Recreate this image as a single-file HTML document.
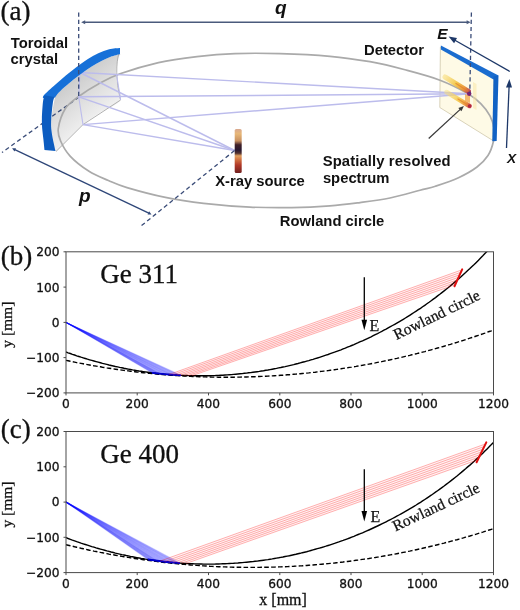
<!DOCTYPE html>
<html><head><meta charset="utf-8"><style>html,body{margin:0;padding:0;background:#fff;}svg{display:block}</style></head>
<body><svg width="520" height="610" viewBox="0 0 520 610">
<rect width="520" height="610" fill="#fff"/>
<g id="pa">
<defs><linearGradient id="gface" gradientUnits="userSpaceOnUse" x1="60" y1="88" x2="95" y2="132"><stop offset="0" stop-color="#cbcbcb"/><stop offset="0.5" stop-color="#e2e2e2"/><stop offset="1" stop-color="#f7f7f7"/></linearGradient><filter id="bl1" x="-50%" y="-50%" width="200%" height="200%"><feGaussianBlur stdDeviation="1.2"/></filter><filter id="bl2" x="-50%" y="-50%" width="200%" height="200%"><feGaussianBlur stdDeviation="0.7"/></filter></defs>
<path d="M440.4,47 L494,78 L493,140.6 L439.8,107.5Z" fill="#fefae6" stroke="#c9c0a0" stroke-width="0.7"/>
<path d="M120,54 C118.7,54 113.8,55.6 110.7,56.8 C107.6,58 104.5,59.4 101.4,61 C98.3,62.6 95.2,64.4 92.1,66.3 C89,68.2 86,70.2 82.9,72.4 C79.8,74.6 76.7,76.9 73.6,79.4 C70.5,81.9 67,84.8 64.3,87.2 C61.6,89.6 59,92.3 57.5,94 C56,95.7 56,93.5 55,97.5 C54,101.5 52.1,112.8 51.5,118 C50.9,123.2 51.2,125.5 51.5,129 C51.8,132.5 52.3,135.5 53,139.2 C53.7,142.9 52.8,151.6 55.6,151.2 C58.4,150.8 65.4,141.4 70,137 C74.6,132.6 77.8,128.8 83,124.6 C88.2,120.4 94.7,116.1 101,112 C107.3,107.9 118,105.3 120.6,100 C123.1,94.7 117,85.7 116.3,80 C115.6,74.3 116.2,69.8 116.6,66 C117,62.2 117.9,59 118.5,57 C119.1,55 121.3,54 120,54" fill="url(#gface)"/>
<path d="M119,53 C116,63 115.5,80 120.6,100 L83,124.6 L56,151.5" fill="none" stroke="#a8a8a8" stroke-width="0.9"/>
<line x1="79" y1="97" x2="2" y2="152.5" stroke="#3a4c78" stroke-width="1.3" stroke-dasharray="4.2,3"/>
<path d="M60.6,141 C58.6,136.4 57.5,133.9 58.3,128.5 C59.1,123.1 62,113.9 65.4,108.5 C68.9,103.1 73.6,100.2 79,96.2 C84.4,92.2 91.2,87.9 98,84.2 C104.8,80.5 109.9,77.4 120,73.8 C130.1,70.2 145.7,65.5 158.5,62.6 C171.3,59.7 184.2,58.1 197,56.6 C209.8,55.1 221.2,54.1 235,53.6 C248.8,53.1 264.2,53.2 280,53.6 C295.8,54 315,54.9 330,56.3 C345,57.6 357.5,59.5 370,61.7 C382.5,64 393.3,66.7 405,69.8 C416.7,72.9 429.5,76.2 440,80.2 C450.5,84.2 461.2,89.8 468,93.7 C474.8,97.6 477.3,100.1 481,103.8 C484.7,107.5 487.8,111.7 490,115.8 C492.2,119.9 493.4,124.3 494,128.5 C494.6,132.7 494.5,136.5 493.5,141 C492.5,145.5 490.8,151.2 488,155.5 C485.2,159.8 481.9,163.3 477,167 C472.1,170.7 465.4,174.5 458.5,177.7 C451.6,180.9 441.8,184.1 435.4,186.2 C429,188.3 427.6,188.2 420,190.2 C412.4,192.2 400,195.9 390,198 C380,200.1 370,201.3 360,202.6 C350,203.9 341.3,205.1 330,205.9 C318.7,206.7 305.3,207.4 292,207.6 C278.7,207.8 264.7,207.8 250,207.1 C235.3,206.4 217.7,204.9 203.6,203.3 C189.5,201.7 178.2,200 165.4,197.4 C152.6,194.8 136.5,190.4 127,187.6 C117.5,184.8 114.7,183.2 108.4,180.5 C102.1,177.8 95.4,175.4 89,171.3 C82.6,167.2 74.8,161.2 70.1,156.1 C65.4,151 62.6,145.6 60.6,141" fill="none" stroke="#aaaaaa" stroke-width="1.7"/>
<g stroke="#bcbcec" stroke-width="1.4" fill="none">
<line x1="234.7" y1="150.5" x2="80" y2="72.5"/>
<line x1="80" y1="72.5" x2="469.2" y2="93.8"/>
<line x1="234.7" y1="150.5" x2="78.7" y2="96.8"/>
<line x1="78.7" y1="96.8" x2="469.2" y2="93.8"/>
<line x1="234.7" y1="150.5" x2="83" y2="124.6"/>
<line x1="83" y1="124.6" x2="469.2" y2="93.8"/>
<path d="M80,72.5 L78.7,96.8 L83,124.6 M116.5,74 L120.6,100" stroke-width="1.1"/>
</g>
<path d="M43,98 C43.2,97.5 42.1,97.2 44.1,95 C46.1,92.8 51.3,88.3 54.9,85.1 C58.5,81.9 62.2,78.6 65.8,75.6 C69.4,72.6 73,69.6 76.6,66.9 C80.2,64.2 83.9,61.5 87.5,59.2 C91.1,56.9 94.7,54.9 98.3,53.2 C101.9,51.5 105.6,50.1 109.2,49.2 C112.8,48.3 118.2,48.2 120,48 L120,54 C118.5,54.5 113.8,55.6 110.7,56.8 C107.6,58 104.5,59.4 101.4,61 C98.3,62.6 95.2,64.4 92.1,66.3 C89,68.2 86,70.2 82.9,72.4 C79.8,74.6 76.7,76.9 73.6,79.4 C70.5,81.9 67,84.8 64.3,87.2 C61.6,89.6 59,92.3 57.5,94 C56,95.7 55.4,96.9 55,97.5Z" fill="#1670d8"/>
<path d="M44.5,95.2 C44.2,96.4 43.3,98.7 42.9,102.5 C42.5,106.3 42,113.8 41.9,118.2 C41.8,122.6 42,125.2 42.2,128.7 C42.5,132.2 43,135.6 43.4,139.2 C43.8,142.8 44.3,148.2 44.5,150 L55.5,151 C55.1,149 53.6,142.9 52.9,139.2 C52.2,135.5 51.6,132.2 51.3,128.7 C51,125.2 51,122.6 51.3,118.2 C51.6,113.8 52.4,106 52.9,102.5 C53.4,99 54.2,97.9 54.5,97Z" fill="#0c5cc0"/>
<defs><linearGradient id="gs1" gradientUnits="userSpaceOnUse" x1="443" y1="75" x2="469" y2="93"><stop offset="0" stop-color="#f8e080" stop-opacity="0.6"/><stop offset="0.5" stop-color="#f2c440"/><stop offset="0.8" stop-color="#e88a2c"/><stop offset="1" stop-color="#b03050"/></linearGradient><linearGradient id="gs2" gradientUnits="userSpaceOnUse" x1="445" y1="91" x2="470" y2="108"><stop offset="0" stop-color="#f8e080" stop-opacity="0.5"/><stop offset="0.55" stop-color="#f4c848"/><stop offset="0.8" stop-color="#eb9034"/><stop offset="1" stop-color="#c83040"/></linearGradient></defs>
<g filter="url(#bl2)" stroke-linecap="round"><line x1="445" y1="77" x2="468.5" y2="91.5" stroke="url(#gs1)" stroke-width="5" opacity="0.9"/><line x1="446.5" y1="92" x2="469.5" y2="106" stroke="url(#gs2)" stroke-width="4.5" opacity="0.9"/><line x1="456" y1="83.5" x2="468.5" y2="91.5" stroke="#e2802c" stroke-width="1.4" opacity="0.7"/><line x1="458" y1="99" x2="469.5" y2="106" stroke="#e2802c" stroke-width="1.3" opacity="0.7"/><path d="M465,94 L470,96 L470,103 L465,101Z" fill="#f0a040" opacity="0.7"/><path d="M473,82 L476.5,84 L476.5,110 L473,108Z" fill="#f9e6a0" opacity="0.5"/></g>
<g filter="url(#bl2)"><circle cx="469.2" cy="93.8" r="2.2" fill="#7a2070"/><circle cx="469.5" cy="106" r="1.8" fill="#b02840"/></g>
<path d="M440.9,45.6 L498.5,75.5 L493.5,79.5 L440.9,49.6Z" fill="#1a6ccf"/>
<path d="M493.5,76.5 L498.5,75.5 L496.7,141 L492.3,141.2Z" fill="#1262c4"/>
<defs><linearGradient id="gsrc" x1="0" y1="0" x2="0" y2="1"><stop offset="0" stop-color="#d8a890"/><stop offset="0.11" stop-color="#e8b878"/><stop offset="0.27" stop-color="#c89060"/><stop offset="0.36" stop-color="#402028"/><stop offset="0.48" stop-color="#281830"/><stop offset="0.55" stop-color="#503030"/><stop offset="0.61" stop-color="#e0a060"/><stop offset="0.70" stop-color="#d07040"/><stop offset="0.82" stop-color="#b03828"/><stop offset="1" stop-color="#702020"/></linearGradient></defs>
<rect x="234.7" y="128.9" width="7" height="44.2" rx="1.5" fill="url(#gsrc)"/>
<g stroke="#3a4c78" stroke-width="1.3" stroke-dasharray="4.2,3" fill="none"><line x1="78.7" y1="12.5" x2="78.7" y2="96.8"/><line x1="471.4" y1="12.5" x2="469.8" y2="93"/><line x1="234.5" y1="150.6" x2="141" y2="226"/></g>
<line x1="84.6" y1="22.3" x2="467.2" y2="22.3" stroke="#4a5a7c" stroke-width="1.5"/>
<path d="M470.6,22.3 L466.6,24.3 L466.6,20.3Z" fill="#4a5a7c"/>
<path d="M81.2,22.3 L85.2,24.3 L85.2,20.3Z" fill="#4a5a7c"/>
<line x1="148.8" y1="213.1" x2="14.8" y2="149.6" stroke="#2e4678" stroke-width="1.3"/>
<path d="M12.1,148.3 L16,148.2 L14.5,151.4Z" fill="#2e4678"/>
<path d="M151.5,214.4 L149.1,211.3 L147.6,214.5Z" fill="#2e4678"/>
<line x1="509.8" y1="71.5" x2="454.5" y2="40" stroke="#1e3868" stroke-width="1.3"/>
<path d="M448.6,36.6 L457,38 L454.1,43.2Z" fill="#1e3868"/>
<line x1="506.5" y1="148" x2="509.1" y2="86.2" stroke="#1e3868" stroke-width="1.3"/>
<path d="M509.4,79 L512,87.6 L506,87.4Z" fill="#1e3868"/>
<line x1="428.7" y1="138.5" x2="460.5" y2="109.1" stroke="#383838" stroke-width="1.2"/>
<path d="M463.9,105.9 L461.4,111.3 L458.3,108Z" fill="#383838"/>
<g font-family="Liberation Sans, Arial, sans-serif" font-weight="bold" font-size="14.8" fill="#111"><text x="10.8" y="47.5">Toroidal</text><text x="10.5" y="63.6">crystal</text><text x="364" y="55.3">Detector</text><text x="322.7" y="165.5" letter-spacing="0.12">Spatially resolved</text><text x="322.9" y="183">spectrum</text><text x="215.2" y="185.7">X-ray source</text><text x="279.8" y="225.8">Rowland circle</text></g>
<g font-family="Liberation Sans, Arial, sans-serif" font-weight="bold" font-style="italic" fill="#111"><text x="79" y="201.5" font-size="19">p</text><text x="275" y="13.5" font-size="19">q</text><text x="437.2" y="39.3" font-size="15.5">E</text><text x="507" y="163.4" font-size="13.7">X</text></g>
<text x="0.6" y="19.8" font-family="Liberation Serif, serif" font-size="27" fill="#111" stroke="#111" stroke-width="0.3">(a)</text>
</g>
<g>
<defs><clipPath id="clipb"><rect x="66.0" y="251.8" width="427.5" height="141.09999999999997"/></clipPath></defs>
<g clip-path="url(#clipb)">
<path d="M66,352 L68.1,352.8 L70.3,353.5 L72.4,354.3 L74.6,355 L76.7,355.8 L78.9,356.5 L81,357.2 L83.2,357.8 L85.3,358.5 L87.5,359.2 L89.6,359.8 L91.8,360.4 L93.9,361 L96.1,361.6 L98.2,362.2 L100.4,362.8 L102.5,363.4 L104.7,363.9 L106.8,364.4 L109,365 L111.1,365.5 L113.3,366 L115.4,366.5 L117.6,366.9 L119.7,367.4 L121.9,367.8 L124,368.3 L126.2,368.7 L128.3,369.1 L130.4,369.5 L132.6,369.9 L134.7,370.2 L136.9,370.6 L139,371 L141.2,371.3 L143.3,371.6 L145.5,371.9 L147.6,372.2 L149.8,372.5 L151.9,372.8 L154.1,373 L156.2,373.3 L158.4,373.5 L160.5,373.8 L162.7,374 L164.8,374.2 L167,374.4 L169.1,374.5 L171.3,374.7 L173.4,374.9 L175.6,375 L177.7,375.1 L179.9,375.3 L182,375.4 L184.2,375.5 L186.3,375.5 L188.4,375.6 L190.6,375.7 L192.7,375.7 L194.9,375.8 L197,375.8 L199.2,375.8 L201.3,375.8 L203.5,375.8 L205.6,375.8 L207.8,375.7 L209.9,375.7 L212.1,375.6 L214.2,375.6 L216.4,375.5 L218.5,375.4 L220.7,375.3 L222.8,375.2 L225,375 L227.1,374.9 L229.3,374.7 L231.4,374.6 L233.6,374.4 L235.7,374.2 L237.9,374 L240,373.8 L242.2,373.6 L244.3,373.3 L246.5,373.1 L248.6,372.8 L250.7,372.6 L252.9,372.3 L255,372 L257.2,371.7 L259.3,371.4 L261.5,371 L263.6,370.7 L265.8,370.3 L267.9,370 L270.1,369.6 L272.2,369.2 L274.4,368.8 L276.5,368.4 L278.7,367.9 L280.8,367.5 L283,367 L285.1,366.6 L287.3,366.1 L289.4,365.6 L291.6,365.1 L293.7,364.6 L295.9,364 L298,363.5 L300.2,362.9 L302.3,362.3 L304.5,361.8 L306.6,361.2 L308.8,360.6 L310.9,359.9 L313,359.3 L315.2,358.6 L317.3,358 L319.5,357.3 L321.6,356.6 L323.8,355.9 L325.9,355.2 L328.1,354.5 L330.2,353.7 L332.4,352.9 L334.5,352.2 L336.7,351.4 L338.8,350.6 L341,349.8 L343.1,348.9 L345.3,348.1 L347.4,347.2 L349.6,346.4 L351.7,345.5 L353.9,344.6 L356,343.6 L358.2,342.7 L360.3,341.7 L362.5,340.8 L364.6,339.8 L366.8,338.8 L368.9,337.8 L371.1,336.8 L373.2,335.7 L375.3,334.6 L377.5,333.6 L379.6,332.5 L381.8,331.4 L383.9,330.2 L386.1,329.1 L388.2,327.9 L390.4,326.7 L392.5,325.5 L394.7,324.3 L396.8,323.1 L399,321.8 L401.1,320.6 L403.3,319.3 L405.4,318 L407.6,316.6 L409.7,315.3 L411.9,313.9 L414,312.5 L416.2,311.1 L418.3,309.7 L420.5,308.3 L422.6,306.8 L424.8,305.3 L426.9,303.8 L429.1,302.3 L431.2,300.7 L433.3,299.1 L435.5,297.6 L437.6,295.9 L439.8,294.3 L441.9,292.6 L444.1,290.9 L446.2,289.2 L448.4,287.5 L450.5,285.7 L452.7,283.9 L454.8,282.1 L457,280.2 L459.1,278.4 L461.3,276.5 L463.4,274.5 L465.6,272.6 L467.7,270.6 L469.9,268.6 L472,266.5 L474.2,264.5 L476.3,262.4 L478.5,260.2 L480.6,258 L482.8,255.8 L484.9,253.6 L487.1,251.3 L489.2,249 L491.4,246.6 L493.5,244.2" fill="none" stroke="#000" stroke-width="1.4"/>
<path d="M66,360.4 L68.1,360.8 L70.3,361.3 L72.4,361.7 L74.6,362.1 L76.7,362.6 L78.9,363 L81,363.4 L83.2,363.8 L85.3,364.2 L87.5,364.6 L89.6,365 L91.8,365.4 L93.9,365.8 L96.1,366.1 L98.2,366.5 L100.4,366.8 L102.5,367.2 L104.7,367.5 L106.8,367.9 L109,368.2 L111.1,368.5 L113.3,368.9 L115.4,369.2 L117.6,369.5 L119.7,369.8 L121.9,370.1 L124,370.4 L126.2,370.7 L128.3,370.9 L130.4,371.2 L132.6,371.5 L134.7,371.7 L136.9,372 L139,372.2 L141.2,372.5 L143.3,372.7 L145.5,372.9 L147.6,373.2 L149.8,373.4 L151.9,373.6 L154.1,373.8 L156.2,374 L158.4,374.2 L160.5,374.4 L162.7,374.5 L164.8,374.7 L167,374.9 L169.1,375.1 L171.3,375.2 L173.4,375.4 L175.6,375.5 L177.7,375.6 L179.9,375.8 L182,375.9 L184.2,376 L186.3,376.1 L188.4,376.3 L190.6,376.4 L192.7,376.5 L194.9,376.5 L197,376.6 L199.2,376.7 L201.3,376.8 L203.5,376.9 L205.6,376.9 L207.8,377 L209.9,377 L212.1,377.1 L214.2,377.1 L216.4,377.1 L218.5,377.2 L220.7,377.2 L222.8,377.2 L225,377.2 L227.1,377.2 L229.3,377.2 L231.4,377.2 L233.6,377.2 L235.7,377.1 L237.9,377.1 L240,377.1 L242.2,377 L244.3,377 L246.5,377 L248.6,376.9 L250.7,376.8 L252.9,376.8 L255,376.7 L257.2,376.6 L259.3,376.5 L261.5,376.4 L263.6,376.3 L265.8,376.2 L267.9,376.1 L270.1,376 L272.2,375.9 L274.4,375.7 L276.5,375.6 L278.7,375.5 L280.8,375.3 L283,375.2 L285.1,375 L287.3,374.8 L289.4,374.7 L291.6,374.5 L293.7,374.3 L295.9,374.1 L298,373.9 L300.2,373.7 L302.3,373.5 L304.5,373.3 L306.6,373.1 L308.8,372.9 L310.9,372.6 L313,372.4 L315.2,372.2 L317.3,371.9 L319.5,371.6 L321.6,371.4 L323.8,371.1 L325.9,370.8 L328.1,370.6 L330.2,370.3 L332.4,370 L334.5,369.7 L336.7,369.4 L338.8,369.1 L341,368.8 L343.1,368.4 L345.3,368.1 L347.4,367.8 L349.6,367.4 L351.7,367.1 L353.9,366.7 L356,366.4 L358.2,366 L360.3,365.6 L362.5,365.3 L364.6,364.9 L366.8,364.5 L368.9,364.1 L371.1,363.7 L373.2,363.3 L375.3,362.9 L377.5,362.4 L379.6,362 L381.8,361.6 L383.9,361.1 L386.1,360.7 L388.2,360.2 L390.4,359.8 L392.5,359.3 L394.7,358.8 L396.8,358.4 L399,357.9 L401.1,357.4 L403.3,356.9 L405.4,356.4 L407.6,355.9 L409.7,355.4 L411.9,354.8 L414,354.3 L416.2,353.8 L418.3,353.2 L420.5,352.7 L422.6,352.1 L424.8,351.6 L426.9,351 L429.1,350.4 L431.2,349.8 L433.3,349.2 L435.5,348.6 L437.6,348 L439.8,347.4 L441.9,346.8 L444.1,346.2 L446.2,345.6 L448.4,344.9 L450.5,344.3 L452.7,343.6 L454.8,343 L457,342.3 L459.1,341.6 L461.3,341 L463.4,340.3 L465.6,339.6 L467.7,338.9 L469.9,338.2 L472,337.5 L474.2,336.8 L476.3,336 L478.5,335.3 L480.6,334.6 L482.8,333.8 L484.9,333.1 L487.1,332.3 L489.2,331.5 L491.4,330.8 L493.5,330" fill="none" stroke="#000" stroke-width="1.4" stroke-dasharray="4.6,2.3"/>
<path d="M66,322.4 L152,372.8 L156.1,373.3 L160.3,373.7 L164.4,374.1 L168.6,374.5 L172.7,374.8 L176.9,375.1 L181,375.3Z" fill="#2020ff" fill-opacity="0.16"/>
<path d="M66,322.4 L152,372.8 L154.2,373.1 L156.3,373.3 L158.5,373.5 L160.7,373.8Z" fill="#0000e0" fill-opacity="0.2"/>
<line x1="66" y1="322.4" x2="152" y2="372.8" stroke="#0000ff" stroke-opacity="0.2" stroke-width="1.1"/>
<line x1="66" y1="322.4" x2="153.9" y2="373" stroke="#0000ff" stroke-opacity="0.2" stroke-width="1.1"/>
<line x1="66" y1="322.4" x2="155.9" y2="373.3" stroke="#0000ff" stroke-opacity="0.2" stroke-width="1.1"/>
<line x1="66" y1="322.4" x2="157.8" y2="373.5" stroke="#0000ff" stroke-opacity="0.2" stroke-width="1.1"/>
<line x1="66" y1="322.4" x2="159.7" y2="373.7" stroke="#0000ff" stroke-opacity="0.2" stroke-width="1.1"/>
<line x1="66" y1="322.4" x2="161.7" y2="373.9" stroke="#0000ff" stroke-opacity="0.2" stroke-width="1.1"/>
<line x1="66" y1="322.4" x2="163.6" y2="374.1" stroke="#0000ff" stroke-opacity="0.2" stroke-width="1.1"/>
<line x1="66" y1="322.4" x2="165.5" y2="374.2" stroke="#0000ff" stroke-opacity="0.2" stroke-width="1.1"/>
<line x1="66" y1="322.4" x2="167.5" y2="374.4" stroke="#0000ff" stroke-opacity="0.2" stroke-width="1.1"/>
<line x1="66" y1="322.4" x2="169.4" y2="374.6" stroke="#0000ff" stroke-opacity="0.2" stroke-width="1.1"/>
<line x1="66" y1="322.4" x2="171.3" y2="374.7" stroke="#0000ff" stroke-opacity="0.2" stroke-width="1.1"/>
<line x1="66" y1="322.4" x2="173.3" y2="374.9" stroke="#0000ff" stroke-opacity="0.2" stroke-width="1.1"/>
<line x1="66" y1="322.4" x2="175.2" y2="375" stroke="#0000ff" stroke-opacity="0.2" stroke-width="1.1"/>
<line x1="66" y1="322.4" x2="177.1" y2="375.1" stroke="#0000ff" stroke-opacity="0.2" stroke-width="1.1"/>
<line x1="66" y1="322.4" x2="179.1" y2="375.2" stroke="#0000ff" stroke-opacity="0.2" stroke-width="1.1"/>
<line x1="66" y1="322.4" x2="181" y2="375.3" stroke="#0000ff" stroke-opacity="0.2" stroke-width="1.1"/>
<path d="M152,372.8 Q166.5,374.7 181,375.3" fill="none" stroke="#0000d0" stroke-width="1.8"/>
<line x1="169" y1="374.5" x2="462" y2="269.8" stroke="#ff0000" stroke-opacity="0.36" stroke-width="0.85"/>
<line x1="172.8" y1="374.8" x2="460.9" y2="272.3" stroke="#ff0000" stroke-opacity="0.36" stroke-width="0.85"/>
<line x1="176.7" y1="375.1" x2="459.7" y2="274.8" stroke="#ff0000" stroke-opacity="0.36" stroke-width="0.85"/>
<line x1="180.5" y1="375.3" x2="458.6" y2="277.3" stroke="#ff0000" stroke-opacity="0.36" stroke-width="0.85"/>
<line x1="184.3" y1="375.5" x2="457.5" y2="279.8" stroke="#ff0000" stroke-opacity="0.36" stroke-width="0.85"/>
<line x1="188.2" y1="375.6" x2="456.3" y2="282.3" stroke="#ff0000" stroke-opacity="0.36" stroke-width="0.85"/>
<line x1="192" y1="375.7" x2="455.2" y2="284.8" stroke="#ff0000" stroke-opacity="0.36" stroke-width="0.85"/>
<path d="M169,374.5 L462,269.8 L455.2,284.8 L192,375.7Z" fill="#ff2020" fill-opacity="0.05"/>
<line x1="462.2" y1="269.4" x2="454.5" y2="286.25" stroke="#e01010" stroke-width="2" stroke-linecap="round"/>
</g>
<rect x="66.0" y="251.8" width="427.5" height="141.09999999999997" fill="none" stroke="#4a4a4a" stroke-width="1"/>
<line x1="364.3" y1="277.2" x2="364.3" y2="321.2" stroke="#000" stroke-width="1.3"/>
<path d="M361.5,319.8 L367.1,319.8 L364.3,330.2Z" fill="#000"/>
<text x="369.5" y="330.5" font-family="Liberation Serif, serif" font-size="16" fill="#111" stroke="#111" stroke-width="0.25">E</text>
<text transform="translate(396.5,340) rotate(-25.9)" font-family="Liberation Serif, serif" font-size="15.5" fill="#111" stroke="#111" stroke-width="0.25">Rowland circle</text>
<path d="M66,392.9 v2.5 M137.2,392.9 v2.5 M208.5,392.9 v2.5 M279.8,392.9 v2.5 M351,392.9 v2.5 M422.2,392.9 v2.5 M493.5,392.9 v2.5 M66.0,392.9 h-2.5 M66.0,357.6 h-2.5 M66.0,322.4 h-2.5 M66.0,287.1 h-2.5 M66.0,251.8 h-2.5" stroke="#4a4a4a" stroke-width="1"/>
<g font-family="DejaVu Sans, sans-serif" font-size="12.2" fill="#111" stroke="#111" stroke-width="0.3">
<text x="66" y="408.2" text-anchor="middle">0</text>
<text x="137.2" y="408.2" text-anchor="middle">200</text>
<text x="208.5" y="408.2" text-anchor="middle">400</text>
<text x="279.8" y="408.2" text-anchor="middle">600</text>
<text x="351" y="408.2" text-anchor="middle">800</text>
<text x="422.2" y="408.2" text-anchor="middle">1000</text>
<text x="493.5" y="408.2" text-anchor="middle">1200</text>
<text x="59.5" y="397.3" text-anchor="end">−200</text>
<text x="59.5" y="362" text-anchor="end">−100</text>
<text x="59.5" y="326.8" text-anchor="end">0</text>
<text x="59.5" y="291.5" text-anchor="end">100</text>
<text x="59.5" y="256.2" text-anchor="end">200</text>
</g>
</g>
<g>
<defs><clipPath id="clipc"><rect x="66.0" y="431.5" width="427.5" height="141.10000000000002"/></clipPath></defs>
<g clip-path="url(#clipc)">
<path d="M66,537.6 L68.1,538.5 L70.3,539.3 L72.4,540.1 L74.6,540.8 L76.7,541.6 L78.9,542.3 L81,543.1 L83.2,543.8 L85.3,544.5 L87.5,545.2 L89.6,545.9 L91.8,546.6 L93.9,547.2 L96.1,547.9 L98.2,548.5 L100.4,549.1 L102.5,549.7 L104.7,550.3 L106.8,550.9 L109,551.4 L111.1,552 L113.3,552.5 L115.4,553.1 L117.6,553.6 L119.7,554.1 L121.9,554.6 L124,555 L126.2,555.5 L128.3,555.9 L130.4,556.4 L132.6,556.8 L134.7,557.2 L136.9,557.6 L139,558 L141.2,558.4 L143.3,558.7 L145.5,559.1 L147.6,559.4 L149.8,559.8 L151.9,560.1 L154.1,560.4 L156.2,560.7 L158.4,560.9 L160.5,561.2 L162.7,561.5 L164.8,561.7 L167,561.9 L169.1,562.2 L171.3,562.4 L173.4,562.6 L175.6,562.7 L177.7,562.9 L179.9,563.1 L182,563.2 L184.2,563.4 L186.3,563.5 L188.4,563.6 L190.6,563.7 L192.7,563.8 L194.9,563.9 L197,563.9 L199.2,564 L201.3,564 L203.5,564.1 L205.6,564.1 L207.8,564.1 L209.9,564.1 L212.1,564.1 L214.2,564.1 L216.4,564 L218.5,564 L220.7,563.9 L222.8,563.8 L225,563.7 L227.1,563.6 L229.3,563.5 L231.4,563.4 L233.6,563.3 L235.7,563.1 L237.9,563 L240,562.8 L242.2,562.6 L244.3,562.4 L246.5,562.2 L248.6,562 L250.7,561.8 L252.9,561.6 L255,561.3 L257.2,561.1 L259.3,560.8 L261.5,560.5 L263.6,560.2 L265.8,559.9 L267.9,559.6 L270.1,559.2 L272.2,558.9 L274.4,558.5 L276.5,558.1 L278.7,557.8 L280.8,557.4 L283,557 L285.1,556.5 L287.3,556.1 L289.4,555.7 L291.6,555.2 L293.7,554.7 L295.9,554.3 L298,553.8 L300.2,553.3 L302.3,552.7 L304.5,552.2 L306.6,551.7 L308.8,551.1 L310.9,550.5 L313,549.9 L315.2,549.3 L317.3,548.7 L319.5,548.1 L321.6,547.5 L323.8,546.8 L325.9,546.2 L328.1,545.5 L330.2,544.8 L332.4,544.1 L334.5,543.4 L336.7,542.6 L338.8,541.9 L341,541.1 L343.1,540.4 L345.3,539.6 L347.4,538.8 L349.6,538 L351.7,537.1 L353.9,536.3 L356,535.4 L358.2,534.5 L360.3,533.7 L362.5,532.8 L364.6,531.8 L366.8,530.9 L368.9,530 L371.1,529 L373.2,528 L375.3,527 L377.5,526 L379.6,525 L381.8,523.9 L383.9,522.9 L386.1,521.8 L388.2,520.7 L390.4,519.6 L392.5,518.5 L394.7,517.3 L396.8,516.2 L399,515 L401.1,513.8 L403.3,512.6 L405.4,511.4 L407.6,510.1 L409.7,508.9 L411.9,507.6 L414,506.3 L416.2,505 L418.3,503.6 L420.5,502.3 L422.6,500.9 L424.8,499.5 L426.9,498.1 L429.1,496.6 L431.2,495.2 L433.3,493.7 L435.5,492.2 L437.6,490.7 L439.8,489.1 L441.9,487.6 L444.1,486 L446.2,484.4 L448.4,482.7 L450.5,481.1 L452.7,479.4 L454.8,477.7 L457,476 L459.1,474.2 L461.3,472.4 L463.4,470.6 L465.6,468.8 L467.7,466.9 L469.9,465.1 L472,463.2 L474.2,461.2 L476.3,459.2 L478.5,457.2 L480.6,455.2 L482.8,453.2 L484.9,451.1 L487.1,448.9 L489.2,446.8 L491.4,444.6 L493.5,442.4" fill="none" stroke="#000" stroke-width="1.4"/>
<path d="M66,544.7 L68.1,545.2 L70.3,545.7 L72.4,546.2 L74.6,546.8 L76.7,547.3 L78.9,547.8 L81,548.3 L83.2,548.7 L85.3,549.2 L87.5,549.7 L89.6,550.2 L91.8,550.6 L93.9,551.1 L96.1,551.5 L98.2,551.9 L100.4,552.4 L102.5,552.8 L104.7,553.2 L106.8,553.6 L109,554.1 L111.1,554.5 L113.3,554.8 L115.4,555.2 L117.6,555.6 L119.7,556 L121.9,556.4 L124,556.7 L126.2,557.1 L128.3,557.4 L130.4,557.8 L132.6,558.1 L134.7,558.5 L136.9,558.8 L139,559.1 L141.2,559.4 L143.3,559.7 L145.5,560 L147.6,560.3 L149.8,560.6 L151.9,560.9 L154.1,561.2 L156.2,561.4 L158.4,561.7 L160.5,562 L162.7,562.2 L164.8,562.5 L167,562.7 L169.1,562.9 L171.3,563.2 L173.4,563.4 L175.6,563.6 L177.7,563.8 L179.9,564 L182,564.2 L184.2,564.4 L186.3,564.6 L188.4,564.8 L190.6,565 L192.7,565.1 L194.9,565.3 L197,565.4 L199.2,565.6 L201.3,565.7 L203.5,565.9 L205.6,566 L207.8,566.1 L209.9,566.3 L212.1,566.4 L214.2,566.5 L216.4,566.6 L218.5,566.7 L220.7,566.8 L222.8,566.9 L225,566.9 L227.1,567 L229.3,567.1 L231.4,567.1 L233.6,567.2 L235.7,567.2 L237.9,567.3 L240,567.3 L242.2,567.3 L244.3,567.4 L246.5,567.4 L248.6,567.4 L250.7,567.4 L252.9,567.4 L255,567.4 L257.2,567.4 L259.3,567.4 L261.5,567.3 L263.6,567.3 L265.8,567.3 L267.9,567.2 L270.1,567.2 L272.2,567.1 L274.4,567.1 L276.5,567 L278.7,566.9 L280.8,566.9 L283,566.8 L285.1,566.7 L287.3,566.6 L289.4,566.5 L291.6,566.4 L293.7,566.3 L295.9,566.1 L298,566 L300.2,565.9 L302.3,565.8 L304.5,565.6 L306.6,565.5 L308.8,565.3 L310.9,565.1 L313,565 L315.2,564.8 L317.3,564.6 L319.5,564.4 L321.6,564.2 L323.8,564 L325.9,563.8 L328.1,563.6 L330.2,563.4 L332.4,563.2 L334.5,563 L336.7,562.7 L338.8,562.5 L341,562.2 L343.1,562 L345.3,561.7 L347.4,561.5 L349.6,561.2 L351.7,560.9 L353.9,560.6 L356,560.3 L358.2,560.1 L360.3,559.7 L362.5,559.4 L364.6,559.1 L366.8,558.8 L368.9,558.5 L371.1,558.1 L373.2,557.8 L375.3,557.5 L377.5,557.1 L379.6,556.8 L381.8,556.4 L383.9,556 L386.1,555.6 L388.2,555.3 L390.4,554.9 L392.5,554.5 L394.7,554.1 L396.8,553.7 L399,553.3 L401.1,552.8 L403.3,552.4 L405.4,552 L407.6,551.5 L409.7,551.1 L411.9,550.6 L414,550.2 L416.2,549.7 L418.3,549.2 L420.5,548.8 L422.6,548.3 L424.8,547.8 L426.9,547.3 L429.1,546.8 L431.2,546.3 L433.3,545.8 L435.5,545.2 L437.6,544.7 L439.8,544.2 L441.9,543.6 L444.1,543.1 L446.2,542.5 L448.4,542 L450.5,541.4 L452.7,540.8 L454.8,540.2 L457,539.7 L459.1,539.1 L461.3,538.5 L463.4,537.9 L465.6,537.2 L467.7,536.6 L469.9,536 L472,535.3 L474.2,534.7 L476.3,534.1 L478.5,533.4 L480.6,532.7 L482.8,532.1 L484.9,531.4 L487.1,530.7 L489.2,530 L491.4,529.3 L493.5,528.6" fill="none" stroke="#000" stroke-width="1.4" stroke-dasharray="4.6,2.3"/>
<path d="M66,502 L148,559.5 L152.6,560.2 L157.1,560.8 L161.7,561.4 L166.3,561.9 L170.9,562.3 L175.4,562.7 L180,563.1Z" fill="#2020ff" fill-opacity="0.16"/>
<path d="M66,502 L148,559.5 L150.4,559.9 L152.8,560.2 L155.2,560.5 L157.6,560.8Z" fill="#0000e0" fill-opacity="0.2"/>
<line x1="66" y1="502" x2="148" y2="559.5" stroke="#0000ff" stroke-opacity="0.2" stroke-width="1.1"/>
<line x1="66" y1="502" x2="150.1" y2="559.8" stroke="#0000ff" stroke-opacity="0.2" stroke-width="1.1"/>
<line x1="66" y1="502" x2="152.3" y2="560.1" stroke="#0000ff" stroke-opacity="0.2" stroke-width="1.1"/>
<line x1="66" y1="502" x2="154.4" y2="560.4" stroke="#0000ff" stroke-opacity="0.2" stroke-width="1.1"/>
<line x1="66" y1="502" x2="156.5" y2="560.7" stroke="#0000ff" stroke-opacity="0.2" stroke-width="1.1"/>
<line x1="66" y1="502" x2="158.7" y2="561" stroke="#0000ff" stroke-opacity="0.2" stroke-width="1.1"/>
<line x1="66" y1="502" x2="160.8" y2="561.2" stroke="#0000ff" stroke-opacity="0.2" stroke-width="1.1"/>
<line x1="66" y1="502" x2="162.9" y2="561.5" stroke="#0000ff" stroke-opacity="0.2" stroke-width="1.1"/>
<line x1="66" y1="502" x2="165.1" y2="561.7" stroke="#0000ff" stroke-opacity="0.2" stroke-width="1.1"/>
<line x1="66" y1="502" x2="167.2" y2="562" stroke="#0000ff" stroke-opacity="0.2" stroke-width="1.1"/>
<line x1="66" y1="502" x2="169.3" y2="562.2" stroke="#0000ff" stroke-opacity="0.2" stroke-width="1.1"/>
<line x1="66" y1="502" x2="171.5" y2="562.4" stroke="#0000ff" stroke-opacity="0.2" stroke-width="1.1"/>
<line x1="66" y1="502" x2="173.6" y2="562.6" stroke="#0000ff" stroke-opacity="0.2" stroke-width="1.1"/>
<line x1="66" y1="502" x2="175.7" y2="562.8" stroke="#0000ff" stroke-opacity="0.2" stroke-width="1.1"/>
<line x1="66" y1="502" x2="177.9" y2="562.9" stroke="#0000ff" stroke-opacity="0.2" stroke-width="1.1"/>
<line x1="66" y1="502" x2="180" y2="563.1" stroke="#0000ff" stroke-opacity="0.2" stroke-width="1.1"/>
<path d="M148,559.5 Q164,562 180,563.1" fill="none" stroke="#0000d0" stroke-width="1.8"/>
<line x1="160" y1="561.1" x2="485.6" y2="443.9" stroke="#ff0000" stroke-opacity="0.36" stroke-width="0.85"/>
<line x1="164.3" y1="561.7" x2="484.3" y2="446.5" stroke="#ff0000" stroke-opacity="0.36" stroke-width="0.85"/>
<line x1="168.7" y1="562.1" x2="483" y2="449.2" stroke="#ff0000" stroke-opacity="0.36" stroke-width="0.85"/>
<line x1="173" y1="562.5" x2="481.7" y2="451.9" stroke="#ff0000" stroke-opacity="0.36" stroke-width="0.85"/>
<line x1="177.3" y1="562.9" x2="480.4" y2="454.5" stroke="#ff0000" stroke-opacity="0.36" stroke-width="0.85"/>
<line x1="181.7" y1="563.2" x2="479.1" y2="457.1" stroke="#ff0000" stroke-opacity="0.36" stroke-width="0.85"/>
<line x1="186" y1="563.5" x2="477.8" y2="459.8" stroke="#ff0000" stroke-opacity="0.36" stroke-width="0.85"/>
<path d="M160,561.1 L485.6,443.9 L477.8,459.8 L186,563.5Z" fill="#ff2020" fill-opacity="0.05"/>
<line x1="486.3" y1="442.4" x2="476.6" y2="462.3" stroke="#e01010" stroke-width="2" stroke-linecap="round"/>
</g>
<rect x="66.0" y="431.5" width="427.5" height="141.10000000000002" fill="none" stroke="#4a4a4a" stroke-width="1"/>
<line x1="364.3" y1="469.2" x2="364.3" y2="512.4" stroke="#000" stroke-width="1.3"/>
<path d="M361.5,511 L367.1,511 L364.3,521.4Z" fill="#000"/>
<text x="370.5" y="521.5" font-family="Liberation Serif, serif" font-size="16" fill="#111" stroke="#111" stroke-width="0.25">E</text>
<text transform="translate(395.5,531.5) rotate(-25.2)" font-family="Liberation Serif, serif" font-size="15.5" fill="#111" stroke="#111" stroke-width="0.25">Rowland circle</text>
<path d="M66,572.6 v2.5 M137.2,572.6 v2.5 M208.5,572.6 v2.5 M279.8,572.6 v2.5 M351,572.6 v2.5 M422.2,572.6 v2.5 M493.5,572.6 v2.5 M66.0,572.6 h-2.5 M66.0,537.3 h-2.5 M66.0,502.1 h-2.5 M66.0,466.8 h-2.5 M66.0,431.5 h-2.5" stroke="#4a4a4a" stroke-width="1"/>
<g font-family="DejaVu Sans, sans-serif" font-size="12.2" fill="#111" stroke="#111" stroke-width="0.3">
<text x="66" y="587.9" text-anchor="middle">0</text>
<text x="137.2" y="587.9" text-anchor="middle">200</text>
<text x="208.5" y="587.9" text-anchor="middle">400</text>
<text x="279.8" y="587.9" text-anchor="middle">600</text>
<text x="351" y="587.9" text-anchor="middle">800</text>
<text x="422.2" y="587.9" text-anchor="middle">1000</text>
<text x="493.5" y="587.9" text-anchor="middle">1200</text>
<text x="59.5" y="577" text-anchor="end">−200</text>
<text x="59.5" y="541.7" text-anchor="end">−100</text>
<text x="59.5" y="506.4" text-anchor="end">0</text>
<text x="59.5" y="471.2" text-anchor="end">100</text>
<text x="59.5" y="435.9" text-anchor="end">200</text>
</g>
</g>
<g font-family="Liberation Serif, serif" fill="#111" stroke="#111" stroke-width="0.3"><text x="0.8" y="264.5" font-size="27">(b)</text><text x="0.8" y="437.9" font-size="27">(c)</text><text x="100.2" y="282.8" font-size="27">Ge 311</text><text x="100.2" y="462.8" font-size="27">Ge 400</text><text x="259.3" y="605.4" font-size="16">x [mm]</text><text transform="translate(12.3,324.7) rotate(-90)" text-anchor="middle" font-size="15.5">y [mm]</text><text transform="translate(12.3,504.5) rotate(-90)" text-anchor="middle" font-size="15.5">y [mm]</text></g>
</svg></body></html>
